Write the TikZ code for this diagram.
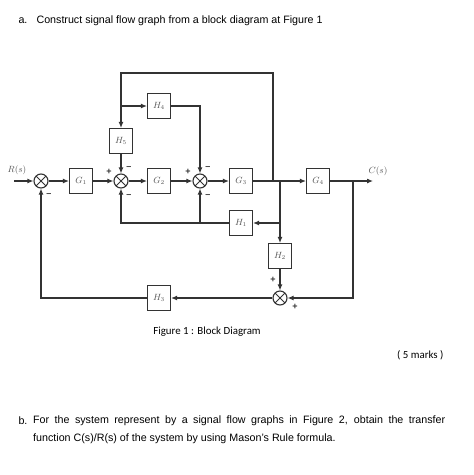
\documentclass[tikz,border=0pt]{standalone}
\usepackage{fontspec}
\setmainfont{Liberation Sans}
\newfontfamily\calibri{Carlito}
\usetikzlibrary{arrows.meta}
\definecolor{wire}{HTML}{333333}
\definecolor{lbl}{HTML}{555555}
\begin{document}
\begin{tikzpicture}
            [x = 1pt, y = -1pt,
            block/.style = {draw = wire, line width = 1.1pt, fill = white, minimum width = 23pt, minimum height = 25pt, inner sep = 0pt, font = \small, text = lbl},
            summer/.style = {draw = wire, line width = 1.1pt, circle, minimum size = 14pt, inner sep = 0pt,
              path picture = {\draw[wire, line width = 1pt] (path picture bounding box.north west) -- (path picture bounding box.south east)
                (path picture bounding box.north east) -- (path picture bounding box.south west);}},
            sign/.style = {font = \small\bfseries, inner sep = 0pt, text = wire},
            arr/.style = {draw = wire, line width = 1.1pt, -{Latex[length = 6pt, width = 5pt]}},
            wireline/.style = {draw = wire, line width = 1.1pt}]
            \useasboundingbox (0,0) rectangle (474,475);
            % forward path
            \coordinate (in) at (14,181);
            \node[summer] (s1) at (41,181) {};
            \node[block] (g1) at (81,181) {$G_1$};
            \node[summer] (s2) at (121,181) {};
            \node[block] (g2) at (159,181) {$G_2$};
            \node[summer] (s3) at (200,181) {};
            \node[block] (g3) at (241,181) {$G_3$};
            \coordinate (b1) at (273,181);
            \coordinate (b2) at (280,181);
            \node[block] (g4) at (318,181) {$G_4$};
            \coordinate (b3) at (353,181);
            \coordinate (out) at (373,181);
            % feedback blocks
            \node[block] (h4) at (159,106) {$H_4$};
            \node[block] (h5) at (121,141) {$H_5$};
            \node[block] (h1) at (241,223) {$H_1$};
            \node[block] (h2) at (280,256) {$H_2$};
            \node[summer] (s4) at (280,298) {};
            \node[block] (h3) at (159,298) {$H_3$};
            \coordinate (t) at (121,73);
            \coordinate (k4) at (121,106);
            \coordinate (k1) at (280,223);
            \coordinate (k3) at (200,223);
            \draw[arr] (in) -- (s1);
            \draw[arr] (s1) -- (g1);
            \draw[arr] (g1) -- (s2);
            \draw[arr] (s2) -- (g2);
            \draw[arr] (g2) -- (s3);
            \draw[arr] (s3) -- (g3);
            \draw[arr] (g3) -- (g4);
            \draw[arr] (g4) -- (out);
            \draw[arr] (b1) |- (t) -- (h5);
            \draw[arr] (h5) -- (s2);
            \draw[arr] (k4) -- (h4);
            \draw[arr] (h4) -| (s3);
            \draw[wireline] (b2) -- (k1);
            \draw[arr] (k1) -- (h1);
            \draw[arr] (k1) -- (h2);
            \draw[arr] (h1) -| (s2);
            \draw[arr] (k3) -- (s3);
            \draw[arr] (h2) -- (s4);
            \draw[arr] (b3) |- (s4);
            \draw[arr] (s4) -- (h3);
            \draw[arr] (h3) -| (s1);
            % signs
            \node[sign] (m1) at (49,195) {--};
            \node[sign] (p2) at (109,172) {+};
            \node[sign] (m2a) at (129,168) {--};
            \node[sign] (m2b) at (129,196) {--};
            \node[sign] (p3) at (188,172) {+};
            \node[sign] (m3a) at (208,168) {--};
            \node[sign] (m3b) at (208,196) {--};
            \node[sign] (p4a) at (273,280) {+};
            \node[sign] (p4b) at (295,307) {+};
            \node[text = lbl, font = \small] (R) at (17,170) {$R(s)$};
            \node[text = lbl, font = \small] (C) at (378,171) {$C(s)$};
            % question text
            \node[anchor = base west, font = \fontsize{10.7}{12}\selectfont] (qa) at (15,23) {a.};
            \node[anchor = base west, font = \fontsize{10.7}{12}\selectfont] (ta) at (33,23) {Construct signal flow graph from a block diagram at Figure 1};
            \node[anchor = base, font = \calibri\fontsize{10.9}{12}\selectfont] (cap) at (207,334) {Figure 1 : Block Diagram};
            \node[anchor = base east, font = \calibri\fontsize{10.9}{12}\selectfont] (mk) at (447,358) {( 5 marks )};
            \node[anchor = base west, font = \fontsize{10.7}{12}\selectfont] (qb) at (15,424) {b.};
            \node[anchor = north west, inner sep = 0pt, text width = 412pt, align = justify,
              font = \fontsize{10.7}{18}\selectfont] (tb) at (33,416) {For the system represent by a signal flow graphs in Figure 2, obtain the transfer\linebreak function C(s)/R(s) of the system by using Mason's Rule formula.};
        \end{tikzpicture}
\end{document}
